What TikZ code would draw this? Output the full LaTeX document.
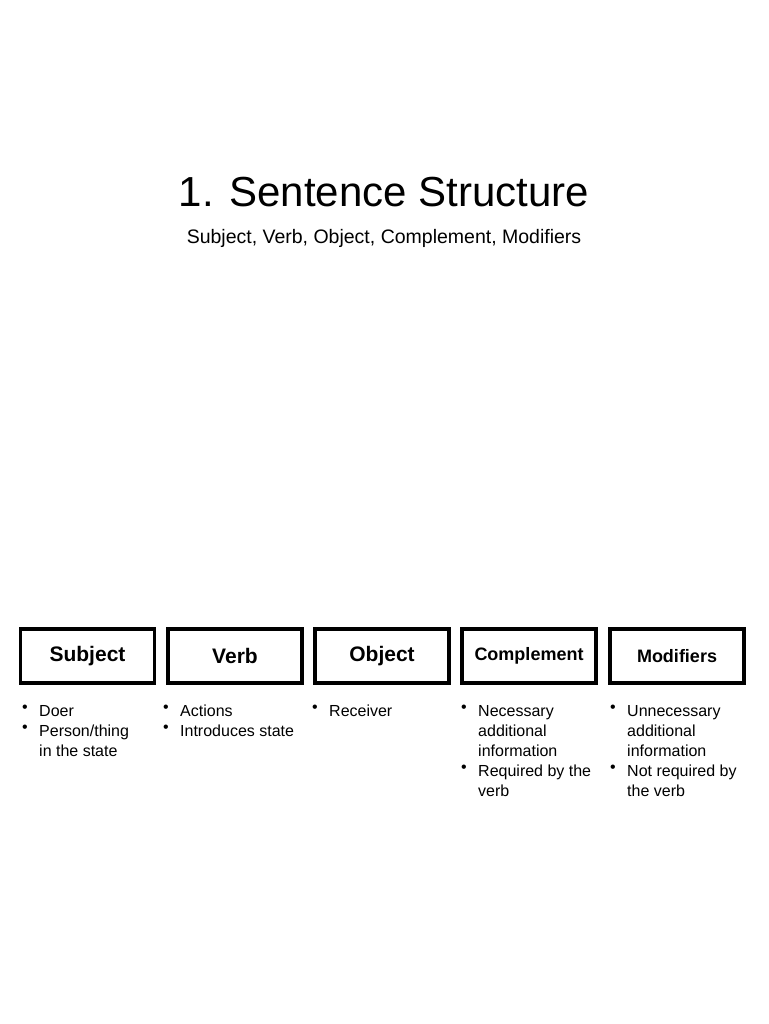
\documentclass[tikz,border=0pt]{standalone}
\usepackage{fontspec}
\setmainfont{Liberation Sans}
\begin{document}
\begin{tikzpicture}[x=1pt,y=-1pt,
  cat/.style={draw,line width=3.5pt,minimum width=134pt,minimum height=54pt,inner sep=0pt,font=\fontsize{21}{25}\selectfont\bfseries},
  bl/.style={anchor=north west,inner sep=0pt,align=left,font=\fontsize{16}{20}\selectfont}]
\useasboundingbox (0,0) rectangle (768,1024);
\fill[white] (0,0) rectangle (768,1024);
\node (title) at (384,192) {\fontsize{42}{48}\selectfont 1. Sentence Structure};
\node (sub) at (384,238) {\fontsize{19.5}{24}\selectfont Subject, Verb, Object, Complement, Modifiers};
\node[cat] (s) at (87.5,656) {Subject};
\node[cat] (v) at (235,656) {Verb};
\node[cat] (o) at (382,656) {Object};
\node[cat,font=\fontsize{18}{22}\selectfont\bfseries] (c) at (529,656) {\raisebox{2pt}{Complement}};
\node[cat,font=\fontsize{18}{22}\selectfont\bfseries] (m) at (677,656) {Modifiers};
\newcommand{\bul}[4]{\node[bl] at (#1-13,#2) {•}; \node[bl,text width=#4] (#3) at (#1,#2) {#3x};}
\node[bl] (b1) at (22,705) {•\\•};
\node[bl] (t1) at (39,705) {Doer\\Person/thing\\in the state};
\node[bl] (b2) at (163,705) {•\\•};
\node[bl] (t2) at (180,705) {Actions\\Introduces state};
\node[bl] (b3) at (312,705) {•};
\node[bl] (t3) at (329,705) {Receiver};
\node[bl] (b4) at (461,705) {•\\[40pt]•};
\node[bl] (t4) at (478,705) {Necessary\\additional\\information\\Required by the\\verb};
\node[bl] (b5) at (610,705) {•\\[40pt]•};
\node[bl] (t5) at (627,705) {Unnecessary\\additional\\information\\Not required by\\the verb};
\end{tikzpicture}
\end{document}
